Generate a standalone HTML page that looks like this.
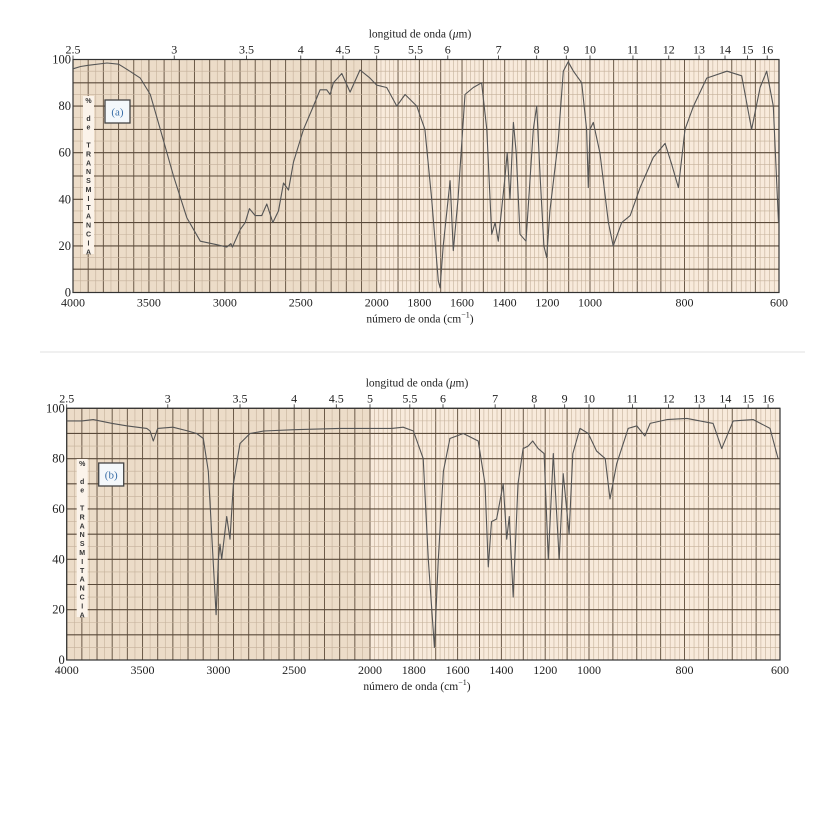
<!DOCTYPE html>
<html><head><meta charset="utf-8">
<style>
html,body{margin:0;padding:0;background:#fff;width:827px;height:813px;overflow:hidden}
svg{display:block}
text{font-family:"Liberation Serif",serif;fill:#222}
</style></head>
<body>
<svg id="root" width="827" height="813" viewBox="0 0 827 813" xmlns="http://www.w3.org/2000/svg">
<rect x="0" y="0" width="827" height="813" fill="#ffffff"/>
<line x1="40" y1="352" x2="805" y2="352" stroke="#e2e2e2" stroke-width="1"/>
</svg>
<script>
// x-axis tick labels (wavenumber, cm-1) and micrometer ticks
const wnTicks = [4000,3500,3000,2500,2000,1800,1600,1400,1200,1000,800,600];
const umTicks = [2.5,3,3.5,4,4.5,5,5.5,6,7,8,9,10,11,12,13,14,15,16];
const umLabels = ["2.5","3","3.5","4","4.5","5","5.5","6","7","8","9","10","11","12","13","14","15","16"];
const yTicks = [0,20,40,60,80,100];

// spectrum (a)
const wnA = [4000,3950,3900,3776,3700,3650,3557,3491,3425,3338,3250,3162,3053,2987,2960,2950,2899,2866,2838,2800,2757,2724,2684,2647,2614,2581,2548,2482,2417,2373,2329,2307,2285,2230,2175,2110,2044,2000,1953,1906,1867,1812,1797,1774,1742,1711,1703,1688,1656,1641,1619,1586,1547,1508,1484,1461,1445,1430,1398,1388,1375,1359,1346,1328,1300,1266,1250,1234,1216,1203,1188,1149,1125,1102,1078,1039,1016,1008,1000,993,979,961,951,933,915,894,866,841,827,813,799,781,753,710,679,658,640,626,612,601];
const tA  = [96,97,97.5,98.5,98,96,92,85,70,50,32,22,20.5,19.5,21,19.5,27,30,36,33,33,38,30,35,47,44,56,70,80,87,87,85,90,94,86,95.5,92,89,88,80,85,80,76,70,40,5,2,20,48,18,40,85,88,90,70,25,30,22,50,60,40,73,60,25,22,70,80,50,20,15,35,65,95,99,95,90,70,45,70,73,60,30,20,30,33,45,58,64,55,45,70,80,92,95,93,70,88,95,80,30];

// spectrum (b)
const wnB = [4000,3900,3825,3700,3600,3472,3450,3429,3400,3300,3200,3143,3099,3066,3044,3015,3000,2989,2978,2945,2923,2901,2857,2791,2700,2500,2200,2000,1900,1849,1802,1757,1734,1706,1688,1665,1635,1574,1506,1475,1460,1445,1422,1392,1376,1364,1346,1324,1301,1278,1257,1232,1205,1186,1163,1136,1118,1091,1074,1041,1003,984,966,956,942,918,900,883,872,837,795,740,722,698,656,621,604];
const tB  = [95,95,95.5,94,93,92,91,87,92,92.5,91,90,88,75,50,18,40,46,40,57,48,70,86,90,91,91.5,92,92,92,92.5,91,80,40,5,40,75,88,90,87,70,37,55,56,70,48,57,25,70,84,85,87,84,82,40,82,40,74,50,82,92,90,83,80,64,78,92,93,89,94,95.5,96,94,84,95,95.5,92,80];

const NS = "http://www.w3.org/2000/svg";
const root = document.getElementById('root');
function mk(tag, attrs, parent){ const e=document.createElementNS(NS,tag); for(const k in attrs) e.setAttribute(k,attrs[k]); (parent||root).appendChild(e); return e; }

function drawChart(cfg, wn, tr){
  const g = mk('g',{});
  
  
  const L=cfg.x0, R=cfg.x600, T=cfg.top, B=cfg.bot;
  function xs(w){
    if (w>=2000) return L + (4000-w)/2000*(cfg.x2000-L);
    if (w>=1000) return cfg.x2000 + (2000-w)/1000*(cfg.x1000-cfg.x2000);
    return cfg.x1000 + (1000-w)/400*(R-cfg.x1000);
  }
  function ys(v){ return B - v/100*(B-T); }
  const bg1 = mk('rect',{x:L,y:T,width:cfg.x2000-L,height:B-T,fill:'#ecdcc8'},g);
  
  
  const bg2 = mk('rect',{x:cfg.x2000,y:T,width:R-cfg.x2000,height:B-T,fill:'#f8eadb'},g);
  
  
  const grid = mk('g',{},g);
  
  
  for(let w=4000; w>=600; ){
    const x=xs(w);
    let major = (w>1000) ? (w%100===0) : (w%50===0);
    mk('line',{x1:x,y1:T,x2:x,y2:B,stroke: major?'#6b5a48':'#c4b09a','stroke-width': major?1:0.6},grid);
    w -= (w>2000)?50:(w>1000?20:10);
  }
  for(let v=0; v<=100; v+=5){
    const y=ys(v);
    const major = v%10===0;
    mk('line',{x1:L,y1:y,x2:R,y2:y,stroke: major?'#5a4a3a':'#c4b09a','stroke-width': major?1.1:0.6},grid);
  }
  const fr = mk('rect',{x:L,y:T,width:R-L,height:B-T,fill:'none',stroke:'#333','stroke-width':1.2},g);
  
  
  yTicks.forEach(v=>{
    const t=mk('text',{x:L-2,y:ys(v)+4,'text-anchor':'end','font-size':12.5},g);
    t.textContent=v;
    
    
  });
  wnTicks.forEach(w=>{
    const t=mk('text',{x:xs(w),y:B+14,'text-anchor':'middle','font-size':12},g);
    t.textContent=w;
    
    
  });
  umTicks.forEach((u,i)=>{
    const x=xs(10000/u);
    mk('line',{x1:x,y1:T-4,x2:x,y2:T,stroke:'#333','stroke-width':0.8},g);
    const t=mk('text',{x:x,y:T-6,'text-anchor':'middle','font-size':12},g);
    t.textContent=umLabels[i];
    
    
  });
  const tt=mk('text',{x:cfg.titleX,y:T-22,'text-anchor':'middle','font-size':11.5},g);
  tt.innerHTML='longitud de onda (<tspan font-style="italic">μ</tspan>m)';
  
  
  const bt=mk('text',{x:cfg.titleX,y:B+30,'text-anchor':'middle','font-size':11.5},g);
  bt.innerHTML='número de onda (cm<tspan dy="-5" font-size="8">−1</tspan><tspan dy="5">)</tspan>';
  
  
  const vb=mk('rect',{x:L+10,y:cfg.vTop,width:11,height:158,fill:'#fbf3ea'},g);
  
  
  const letters="% de TRANSMITANCIA".split('');
  const vt=mk('g',{},g);
  
  
  letters.forEach((c,i)=>{
    if(c===' ') return;
    const t=mk('text',{x:L+15.5,y:cfg.vTop+7+i*8.9,'text-anchor':'middle','font-size':7,'font-weight':'bold'},vt);
    t.setAttribute('style','font-family:"Liberation Sans",sans-serif;fill:#333');
    t.textContent=c;
  });
  const lb=mk('rect',{x:L+32,y:cfg.vTop+4,width:25,height:23,fill:'#f4f8fb',stroke:'#444','stroke-width':1.3},g);
  
  
  const lt=mk('text',{x:L+44.5,y:cfg.vTop+19.5,'text-anchor':'middle','font-size':11},g);
  lt.setAttribute('style','font-family:"Liberation Serif",serif;fill:#3a6fa8');
  lt.textContent='('+cfg.id+')';
  
  
  let d='';
  wn.forEach((w,i)=>{ d += (i?'L':'M') + xs(w).toFixed(1)+','+ys(tr[i]).toFixed(1); });
  const p=mk('path',{d:d,fill:'none',stroke:'#555','stroke-width':1.1,'stroke-linejoin':'round'},g);
  
  
}

drawChart({id:'a',x0:73,x2000:376.7,x1000:590,x600:779,top:59.5,bot:292.5,titleX:420,vTop:96}, wnA, tA);
drawChart({id:'b',x0:66.7,x2000:370,x1000:589,x600:780,top:408.3,bot:660,titleX:417,vTop:459}, wnB, tB);
</script>
</body></html>
